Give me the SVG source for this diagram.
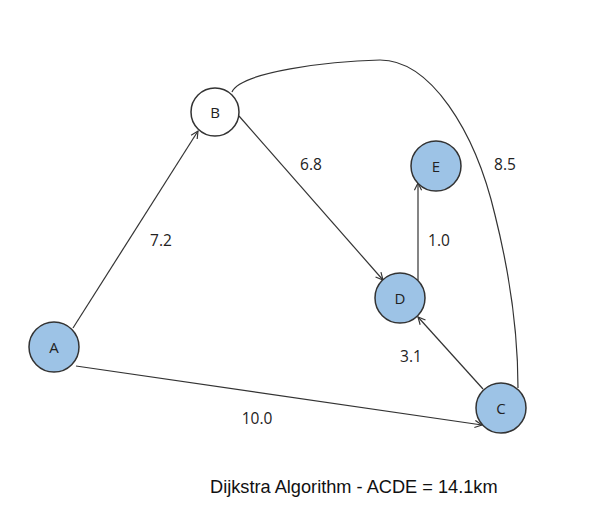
<svg xmlns="http://www.w3.org/2000/svg" width="605" height="527" viewBox="0 0 605 527">
<style>
.node{fill:#9dc3e6;stroke:#333;stroke-width:1.5}
.white{fill:#fff}
.nl{font-family:"Open Sans","Liberation Sans",sans-serif;font-size:15px;fill:#222;text-anchor:middle;dominant-baseline:central}
.el{font-family:"Open Sans","Liberation Sans",sans-serif;font-size:15.5px;fill:#222;text-anchor:middle;dominant-baseline:central}
.edge{fill:none;stroke:#333;stroke-width:1.2}
.title{font-family:"Liberation Sans",Arial,sans-serif;font-size:18.2px;fill:#111}
</style>
<defs>
<marker id="arr" viewBox="0 0 10 10" refX="9" refY="5" markerWidth="9" markerHeight="9" orient="auto" markerUnits="userSpaceOnUse">
<path d="M1,1 L9,5 L1,9" fill="none" stroke="#333" stroke-width="1.3"/>
</marker>
</defs>
<rect width="605" height="527" fill="#fff"/>
<g id="connectors">
<line class="edge" x1="73" y1="328" x2="198" y2="131" marker-end="url(#arr)"/>
<line class="edge" x1="239" y1="116" x2="383" y2="280" marker-end="url(#arr)"/>
<line class="edge" x1="418" y1="280" x2="418" y2="183" marker-end="url(#arr)"/>
<line class="edge" x1="483" y1="389" x2="418" y2="317" marker-end="url(#arr)"/>
<line class="edge" x1="76" y1="366" x2="482" y2="425" marker-end="url(#arr)"/>
<path class="edge" d="M232,92 C240,72 330,61 380,60 C430,60 475,130 495,215 C510,275 518,330 518,388"/>
</g>
<g id="node-A"><circle class="node" cx="54" cy="347" r="25"/><text class="nl" x="54" y="347">A</text></g>
<g id="node-B"><circle class="node white" cx="215" cy="112" r="24"/><text class="nl" x="215" y="112">B</text></g>
<g id="node-E"><circle class="node" cx="436" cy="166" r="25"/><text class="nl" x="436" y="166">E</text></g>
<g id="node-D"><circle class="node" cx="400" cy="298" r="25"/><text class="nl" x="400" y="298">D</text></g>
<g id="node-C"><circle class="node" cx="501" cy="408" r="25"/><text class="nl" x="501" y="408">C</text></g>
<g id="labels">
<text class="el" x="161" y="240">7.2</text>
<text class="el" x="311" y="164">6.8</text>
<text class="el" x="505" y="164">8.5</text>
<text class="el" x="439" y="240">1.0</text>
<text class="el" x="411" y="356">3.1</text>
<text class="el" x="257" y="418">10.0</text>
<text class="title" x="210" y="493">Dijkstra Algorithm - ACDE = 14.1km</text>
</g>
</svg>
